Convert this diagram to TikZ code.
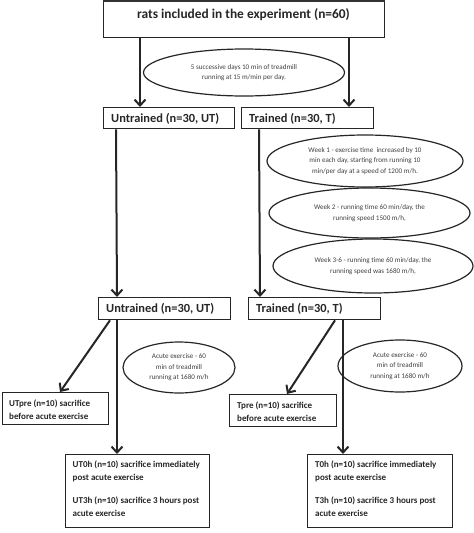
\documentclass[tikz,border=0pt]{standalone}
\usepackage{fontspec}
\setmainfont{Carlito}
\usetikzlibrary{arrows.meta,shapes.geometric}
\begin{document}
\begin{tikzpicture}[x=1pt,y=-1pt,
  box/.style={draw=black!85,line width=1.3pt,rectangle,inner sep=0pt,anchor=north west},
  lab/.style={font=\fontsize{12.4}{15}\selectfont\bfseries,text=black!85,inner sep=0pt},
  title/.style={font=\fontsize{13.4}{15}\selectfont\bfseries,text=black!85,inner sep=0pt},
  small/.style={font=\fontsize{9}{13.1}\selectfont\bfseries,text=black!85,inner sep=0pt},
  ell/.style={draw=black!85,line width=1.2pt,ellipse,inner sep=0pt,align=center,
    font=\fontsize{7.1}{10.4}\selectfont,text=black!75},
  arr/.style={draw=black!85,line width=2pt,-{Straight Barb[length=6pt,width=11pt,line width=2pt]}},
  ln/.style={draw=black!85,line width=2pt}]
\useasboundingbox (0,0) rectangle (474,533);
% top box
\node[box,minimum width=281pt,minimum height=37pt] (top) at (103,0) {};
\node[title] (toplab) at (243.5,15) {rats included in the experiment (n=60)};
\draw[black!80,line width=3pt] (top.north west) -- (top.north east);
% level 1
\node[box,minimum width=131pt,minimum height=21pt] (ut1) at (103,107) {};
\node[lab,anchor=west] (ut1lab) at (111,118.5) {Untrained (n=30, UT)};
\node[box,minimum width=132pt,minimum height=21pt] (t1) at (241,107) {};
\node[lab,anchor=west] (t1lab) at (249,118.5) {Trained (n=30, T)};
\node[ell,minimum width=201pt,minimum height=47pt] (e0) at (244,72.5) {5 successive days 10 min of treadmill\\running at 15 m/min per day.};
\draw[arr] (top.south -| 140,0) -- (ut1.north -| 140,0);
\draw[arr] (top.south -| 349,0) -- (t1.north -| 349,0);
% training ellipses
\node[ell,minimum width=196pt,minimum height=52pt] (w1) at (365,161) {Week 1 - exercise time\ \ increased by 10\\min each day, starting from running 10\\min/per day at a speed of 1200 m/h.};
\node[ell,minimum width=201pt,minimum height=50pt] (w2) at (369.5,213) {Week 2 - running time 60 min/day, the\\running speed 1500 m/h,};
\node[ell,minimum width=200pt,minimum height=54pt] (w3) at (373,266) {Week 3-6 - running time 60 min/day, the\\running speed was 1680 m/h,};
% level 2
\node[box,minimum width=132pt,minimum height=22pt] (ut2) at (98,297) {};
\node[lab,anchor=west] (ut2lab) at (106,309) {Untrained (n=30, UT)};
\node[box,minimum width=132pt,minimum height=22pt] (t2) at (248,297) {};
\node[lab,anchor=west] (t2lab) at (256,309) {Trained (n=30, T)};
\draw[arr] (ut1.south -| 116,0) -- (ut2.north -| 117,0);
\draw[arr] (t1.south -| 259,0) -- (t2.north -| 260,0);
% acute ellipses
\node[ell,minimum width=112pt,minimum height=51pt] (a1) at (179,367.5) {Acute exercise - 60\\min of treadmill\\running at 1680 m/h};
\node[ell,minimum width=124pt,minimum height=52pt] (a2) at (400,366) {Acute exercise - 60\\min of treadmill\\running at 1680 m/h};
% pre boxes
\node[box,minimum width=106pt,minimum height=32pt] (utpre) at (2,392) {};
\node[small,anchor=north west,align=left] (utprelab) at (9,400) {UTpre (n=10) sacrifice\\before acute exercise};
\node[box,minimum width=107pt,minimum height=32pt] (tpre) at (229,394) {};
\node[small,anchor=north west,align=left] (tprelab) at (237,402) {Tpre (n=10) sacrifice\\before acute exercise};
% post boxes
\node[box,minimum width=144pt,minimum height=73pt] (ut0) at (65,454) {};
\node[small,anchor=north west,align=left] (ut0lab) at (72.5,461) {UT0h (n=10) sacrifice immediately\\post acute exercise\\[9.5pt]UT3h (n=10) sacrifice 3 hours post\\acute exercise};
\node[box,minimum width=145pt,minimum height=73pt] (t0) at (307,454) {};
\node[small,anchor=north west,align=left] (t0lab) at (315,461) {T0h (n=10) sacrifice immediately\\post acute exercise\\[9.5pt]T3h (n=10) sacrifice 3 hours post\\acute exercise};
% arrows level 3
\draw[arr] (ut2.south -| 110,0) -- (utpre.north -| 60,0);
\draw[arr] (ut2.south -| 117,0) -- (ut0.north -| 117,0);
\draw[arr] (t2.south -| 335,0) -- (tpre.north -| 287,0);
\draw[arr] (t2.south -| 343,0) -- (t0.north -| 343,0);
\end{tikzpicture}
\end{document}
